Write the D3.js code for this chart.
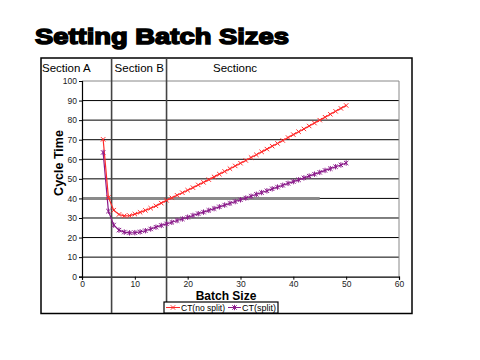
<!DOCTYPE html>
<html><head><meta charset="utf-8">
<script src="https://cdn.jsdelivr.net/npm/d3@7"></script>
<style>body{margin:0;background:#fff}svg{display:block}text{font-family:"Liberation Sans",Arial,sans-serif}</style>
</head><body>
<script>
const batchSizes = d3.range(4, 51);
const ctNoSplit = [70.2,40.5,34,31.8,31.1,31.2,32,32.9,33.9,35,36.2,37.6,39,40.3,41.6,42.9,44.2,45.5,46.9,48.2,49.6,51,52.4,53.8,55.2,56.6,58,59.4,60.9,62.3,63.8,65.2,66.7,68.1,69.6,71.1,72.6,74.1,75.5,77,78.5,80,81.5,83,84.5,86,87.5];
const ctSplit = [63.5,33.5,26.4,23.8,22.8,22.4,22.5,22.9,23.5,24.4,25.3,26.2,27,27.8,28.7,29.5,30.4,31.3,32.2,33,33.9,34.8,35.7,36.6,37.5,38.4,39.3,40.2,41.1,42.1,43,43.9,44.9,45.8,46.7,47.7,48.6,49.5,50.5,51.4,52.4,53.3,54.3,55.2,56.2,57.1,58.1];
const xTicks = [0,10,20,30,40,50,60];
const yTicks = [0,10,20,30,40,50,60,70,80,90,100];
const sectionLabels = ["Section A","Section B","Sectionc"];
const sectionBounds = [5.6, 16.0]; // in batch-size units
const refLevel = 40, refEnd = 45;
const seriesNames = ["CT(no split)","CT(split)"];

const W=480,H=360;
const svg=d3.select("body").append("svg").attr("width",W).attr("height",H);
const x=d3.scaleLinear().domain([0,60]).range([82,399]);
const y=d3.scaleLinear().domain([0,100]).range([276.7,81]);

// title
svg.append("text").attr("x",35).attr("y",43.5).attr("font-size",22.5).attr("font-weight","bold")
  .attr("stroke","#000").attr("stroke-width",1.5).attr("textLength",254).attr("lengthAdjust","spacingAndGlyphs")
  .text("Setting Batch Sizes");

// outer frame
svg.append("rect").attr("x",41).attr("y",58).attr("width",371).attr("height",255.5)
  .attr("fill","none").attr("stroke","#000").attr("stroke-width",1.5);

// gridlines
svg.append("g").selectAll("line").data(yTicks.filter(d=>d>0&&d<100)).join("line")
  .attr("x1",x(0)).attr("x2",x(60)).attr("y1",d=>y(d)).attr("y2",d=>y(d))
  .attr("stroke","#000").attr("stroke-width",1);
// plot border top/right
svg.append("path").attr("d",`M${x(0)},${y(100)}H${x(60)}V${y(0)}`).attr("fill","none").attr("stroke","#888").attr("stroke-width",1);

// reference gray line
svg.append("line").attr("x1",x(0)).attr("x2",x(refEnd)).attr("y1",y(refLevel)).attr("y2",y(refLevel))
  .attr("stroke","#8a8a8a").attr("stroke-width",3);

// axes
const yAxis=d3.axisLeft(y).tickValues(yTicks).tickSize(3).tickPadding(2);
const gy=svg.append("g").attr("transform",`translate(${x(0)},0)`).call(yAxis);
const xAxis=d3.axisBottom(x).tickValues(xTicks).tickSize(3).tickPadding(1.5);
const gx=svg.append("g").attr("transform",`translate(0,${y(0)})`).call(xAxis);
[gy,gx].forEach(g=>{g.select(".domain").attr("stroke","#000").attr("stroke-width",1.2);
  g.selectAll("text").attr("font-size",8.5).attr("fill","#222").attr("font-family","Liberation Sans, Arial, sans-serif");
  g.selectAll(".tick line").attr("stroke","#000");});

// section lines
svg.append("g").selectAll("line").data(sectionBounds).join("line")
  .attr("x1",d=>x(d)).attr("x2",d=>x(d)).attr("y1",58).attr("y2",313)
  .attr("stroke","#444").attr("stroke-width",1.6);

// section labels
const secLabelX=[42, x(sectionBounds[0])+3, 213];
svg.append("g").selectAll("text").data(sectionLabels).join("text")
  .attr("x",(d,i)=>secLabelX[i]).attr("y",72).attr("font-size",11.5).attr("fill","#000").text(d=>d);

// series
const line=d3.line().x(d=>x(d[0])).y(d=>y(d[1]));
const red="#ff2a2a", purple="#8a1a8a";
const dataR=batchSizes.map((b,i)=>[b,ctNoSplit[i]]);
const dataP=batchSizes.map((b,i)=>[b,ctSplit[i]]);
function xMark(g,px,py,s,c){g.append("path").attr("d",`M${px-s},${py-s}L${px+s},${py+s}M${px-s},${py+s}L${px+s},${py-s}`).attr("stroke",c).attr("stroke-width",1).attr("fill","none");}
function starMark(g,px,py,s,c){xMark(g,px,py,s,c);g.append("path").attr("d",`M${px},${py-s-0.5}V${py+s+0.5}`).attr("stroke",c).attr("stroke-width",1);}
svg.append("path").datum(dataP).attr("d",line).attr("fill","none").attr("stroke",purple).attr("stroke-width",1.2);
svg.append("path").datum(dataR).attr("d",line).attr("fill","none").attr("stroke",red).attr("stroke-width",1.2);
const gm=svg.append("g");
dataP.forEach(d=>starMark(gm,x(d[0]),y(d[1]),2.2,purple));
dataR.forEach(d=>xMark(gm,x(d[0]),y(d[1]),2.2,red));

// axis titles
svg.append("text").attr("x",226).attr("y",299.5).attr("text-anchor","middle").attr("font-size",12).attr("font-weight","bold").text("Batch  Size");
svg.append("text").attr("transform","translate(63,163) rotate(-90)").attr("text-anchor","middle").attr("font-size",12.5).attr("font-weight","bold").text("Cycle Time");

// legend
const lg=svg.append("g");
lg.append("rect").attr("x",164).attr("y",302).attr("width",114).attr("height",11).attr("fill","#fff").attr("stroke","#000").attr("stroke-width",1.2);
lg.append("line").attr("x1",166).attr("x2",180).attr("y1",307.5).attr("y2",307.5).attr("stroke",red);
xMark(lg,173,307.5,2.2,red);
lg.append("text").attr("x",181).attr("y",311).attr("font-size",9).attr("textLength",44).attr("lengthAdjust","spacingAndGlyphs").text(seriesNames[0]);
lg.append("line").attr("x1",228).attr("x2",241).attr("y1",307.5).attr("y2",307.5).attr("stroke",purple);
starMark(lg,234.5,307.5,2.2,purple);
lg.append("text").attr("x",242).attr("y",311).attr("font-size",9).attr("textLength",34).attr("lengthAdjust","spacingAndGlyphs").text(seriesNames[1]);
</script>
</body></html>
